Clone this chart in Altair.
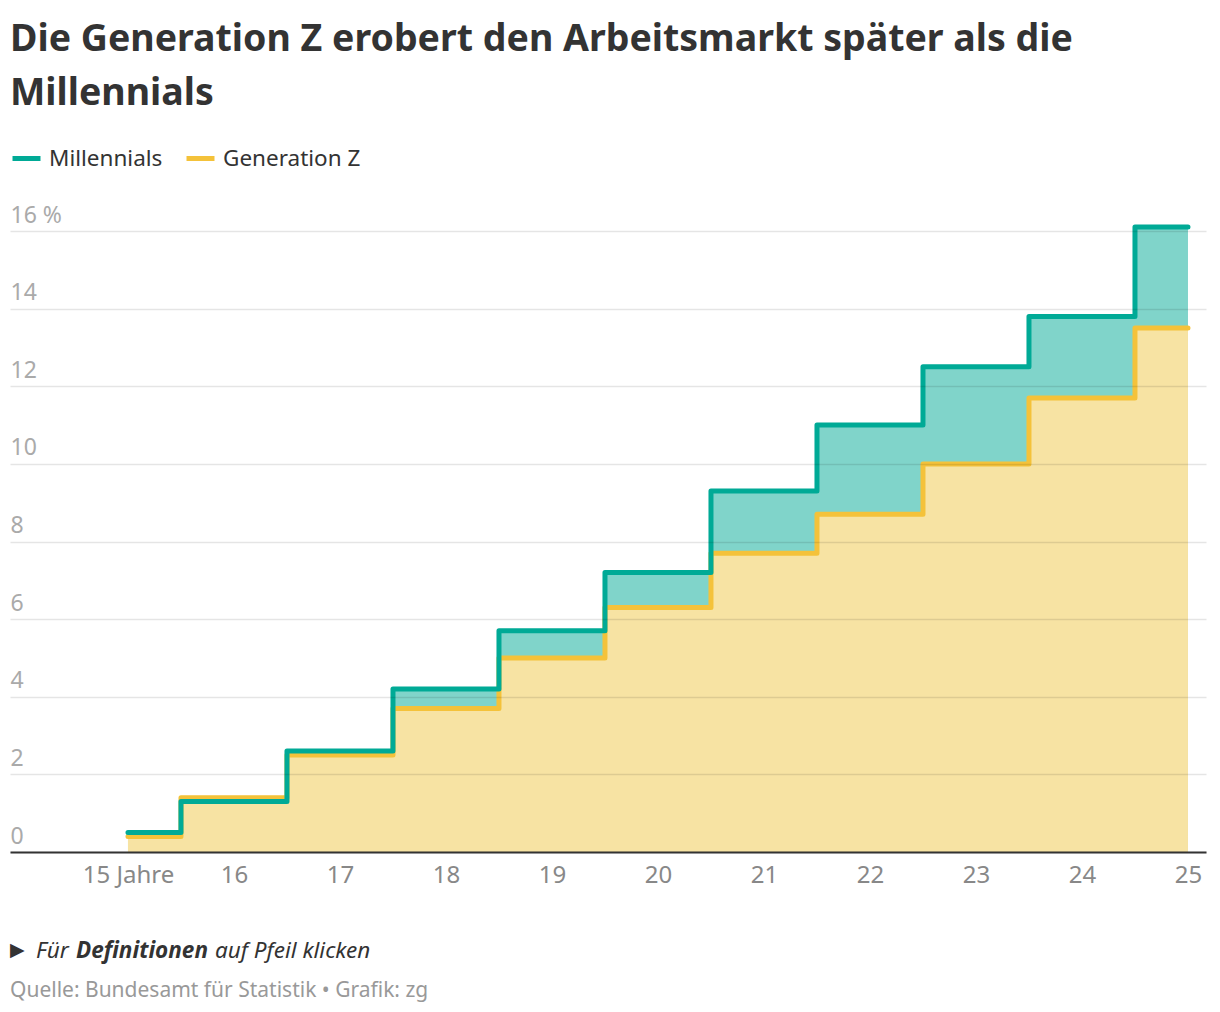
import altair as alt
import pandas as pd

ages = [15, 16, 17, 18, 19, 20, 21, 22, 23, 24, 25]
millennials = [0.5, 1.3, 2.6, 4.2, 5.7, 7.2, 9.3, 11.0, 12.5, 13.8, 16.1]
gen_z = [0.4, 1.4, 2.5, 3.7, 5.0, 6.3, 7.7, 8.7, 10.0, 11.7, 13.5]
series = ["Millennials", "Generation Z"]
line_colors = ["#00aa96", "#f4c23a"]
fill_colors = ["#80d4ca", "#f7e3a3"]
y_ticks = [0, 2, 4, 6, 8, 10, 12, 14, 16]

FONT = "Noto Sans"
W, H = 1196, 621

wide = pd.DataFrame({"age": ages, "m": millennials, "g": gen_z})
long = pd.DataFrame({
    "age": ages + ages,
    "value": millennials + gen_z,
    "series": [series[0]] * len(ages) + [series[1]] * len(ages),
})

xs = alt.Scale(domain=[13.887, 25.17], nice=False, zero=False)
ys = alt.Scale(domain=[0, 16], nice=False)

x_axis = alt.Axis(values=ages, format="d",
                  labelExpr="datum.value == 15 ? '15 Jahre' : datum.label",
                  title=None, grid=False, ticks=False, domain=True, domainColor="#333333",
                  domainWidth=2, labelColor="#888888", labelFont=FONT, labelFontSize=24,
                  labelPadding=11, labelFlush=False, zindex=2)
y_axis = alt.Axis(values=y_ticks, format="d",
                  labelExpr="datum.value == 16 ? '16 %' : datum.label",
                  title=None, grid=True, gridColor="#000000", gridOpacity=0.1, gridWidth=1.5,
                  ticks=False, domain=False, labelAlign="left", labelBaseline="bottom",
                  labelPadding=0, labelOffset=-4, labelColor="#aaaaaa", labelFont=FONT,
                  labelFontSize=23, zindex=1)

X = alt.X("age:Q", scale=xs, axis=x_axis)

base = alt.Chart(wide)
area_m = base.mark_area(interpolate="step", color=fill_colors[0]).encode(
    x=X, y=alt.Y("m:Q", scale=ys, axis=y_axis))
area_g = base.mark_area(interpolate="step", color=fill_colors[1]).encode(
    x=X, y=alt.Y("g:Q", scale=ys, axis=y_axis))

color = alt.Color("series:N", scale=alt.Scale(domain=series, range=line_colors),
                  legend=alt.Legend(title=None, orient="none", legendX=0, legendY=-89,
                                    direction="horizontal", symbolType="stroke",
                                    symbolSize=784, symbolStrokeWidth=5,
                                    labelFont=FONT, labelFontSize=22.5, labelColor="#333333",
                                    labelOffset=6, columnPadding=13))
line_g = alt.Chart(long).transform_filter(alt.datum.series == series[1]).mark_line(
    interpolate="step", strokeWidth=5, strokeCap="round", strokeJoin="round").encode(
    x=X, y=alt.Y("value:Q", scale=ys, axis=y_axis), color=color)
line_m = alt.Chart(long).transform_filter(alt.datum.series == series[0]).mark_line(
    interpolate="step", strokeWidth=5, strokeCap="round", strokeJoin="round").encode(
    x=X, y=alt.Y("value:Q", scale=ys, axis=y_axis), color=color)

def txt(s, x, y, size, color="#333333", weight="normal", style="normal", baseline="middle"):
    return alt.Chart(pd.DataFrame({"t": [s]})).mark_text(
        align="left", baseline=baseline, font=FONT, fontSize=size, fontWeight=weight,
        fontStyle=style, color=color).encode(x=alt.value(x), y=alt.value(y), text="t:N")

title1 = txt("Die Generation Z erobert den Arbeitsmarkt später als die", 0, -191, 37.5, weight="bold")
title2 = txt("Millennials", 0, -137, 37.5, weight="bold")
tri = txt("▶", 0, 719, 19)
f1 = txt("Für", 26, 720, 22.5, style="italic")
f2 = txt("Definitionen", 66, 720, 22.5, style="italic", weight="bold")
f3 = txt("auf Pfeil klicken", 205, 720, 22.5, style="italic")
src = txt("Quelle: Bundesamt für Statistik • Grafik: zg", 0, 760, 21, color="#999999")

chart = alt.layer(area_m, area_g, line_g, line_m, title1, title2, tri, f1, f2, f3, src).properties(
    width=W, height=H,
    background="white",
    autosize=alt.AutoSizeParams(type="none"),
    padding={"left": 10, "top": 231, "right": 14, "bottom": 160},
).configure_view(stroke="transparent", strokeWidth=0)

chart.save("out.html", embed_options={"renderer": "svg", "actions": False})
